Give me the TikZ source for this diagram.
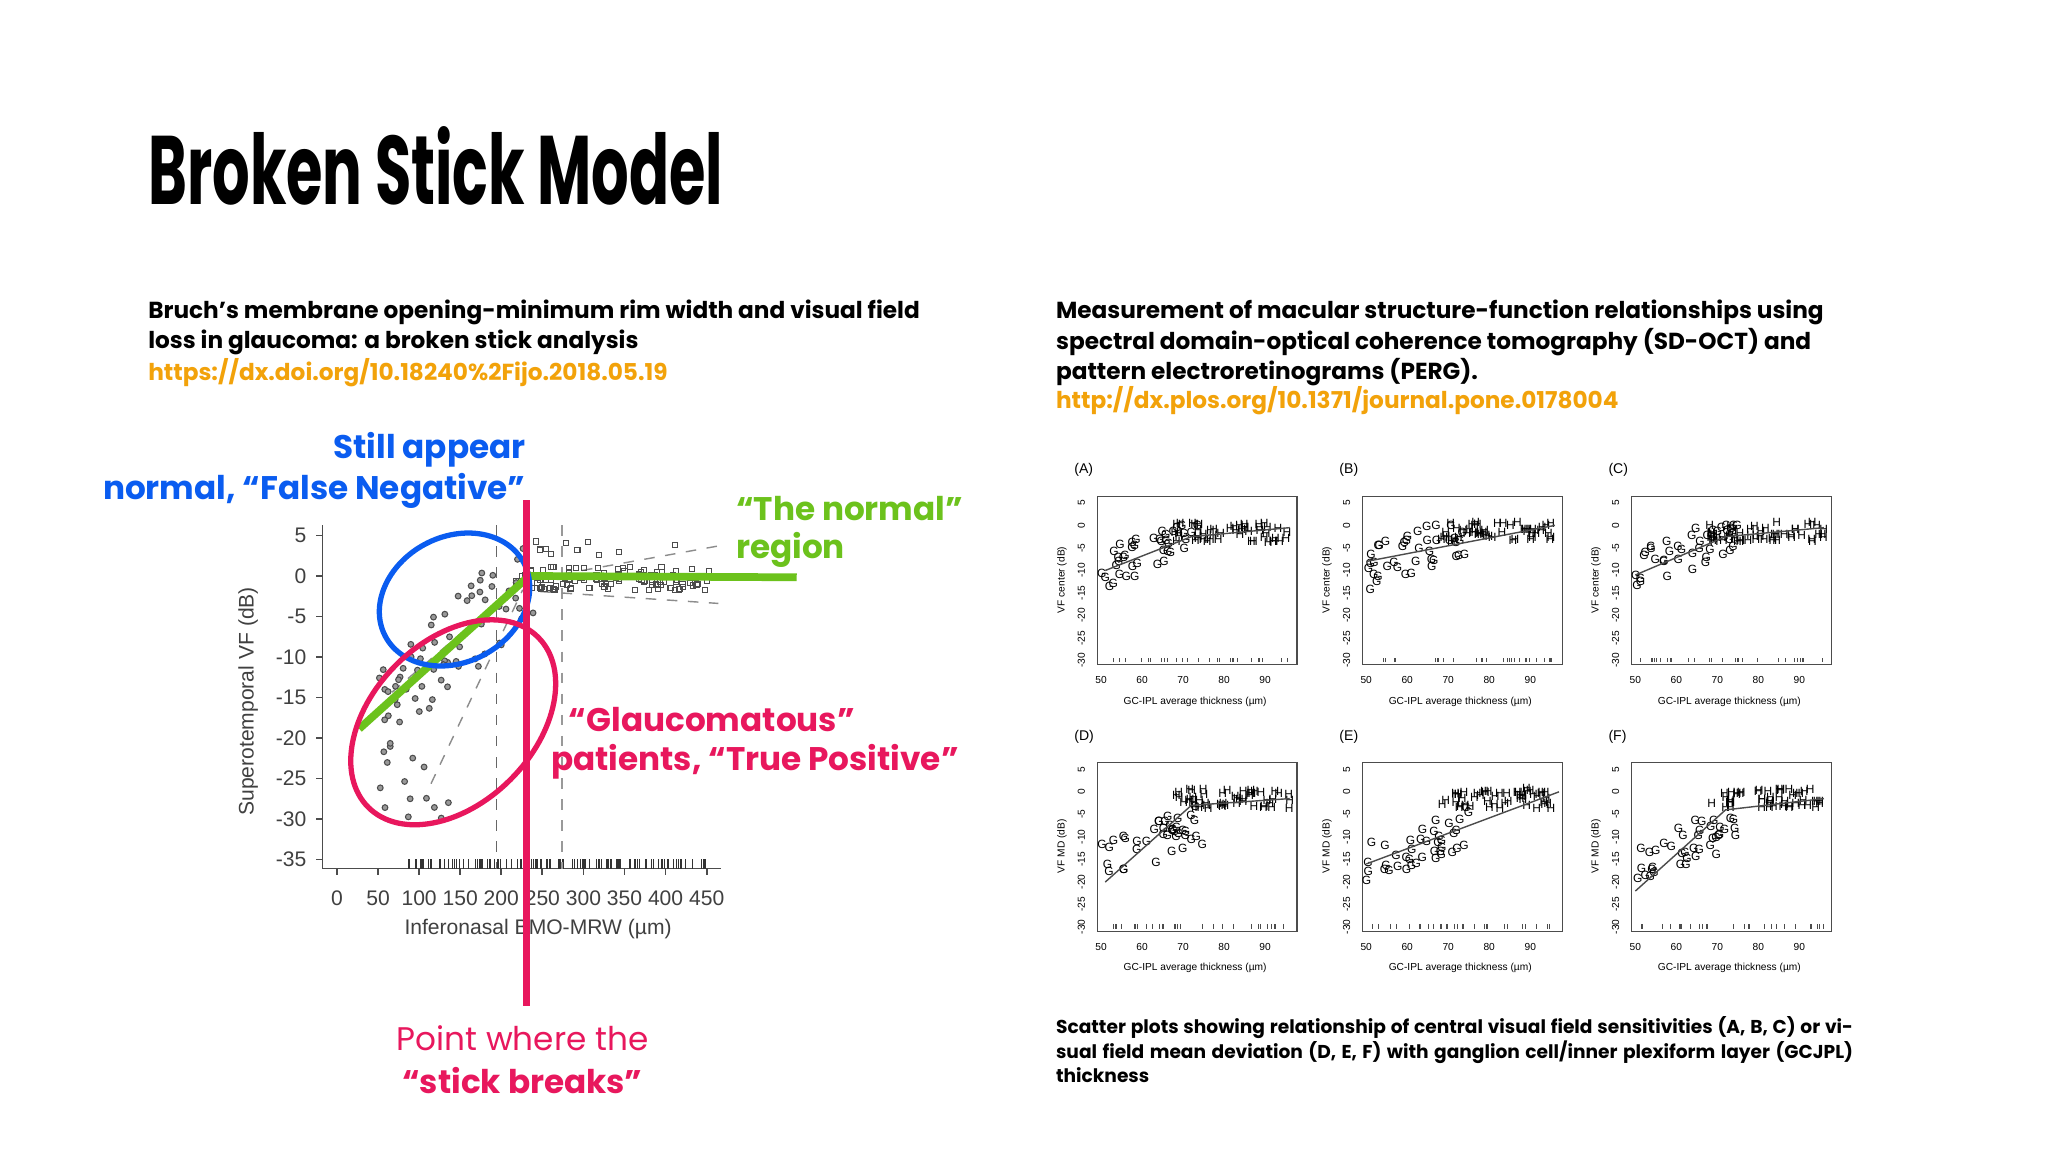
\documentclass[tikz,border=0pt]{standalone}
\usepackage{fontspec}
\setmainfont{Poppins}
\newfontfamily\arial{Liberation Sans}
\definecolor{lnk}{HTML}{F2A20A}
\definecolor{bl}{HTML}{0A5CF0}
\definecolor{gr}{HTML}{6CC21C}
\definecolor{pk}{HTML}{E8175D}
\tikzset{
 hd/.style={anchor=west,inner sep=0,font=\fontsize{6.6}{7}\bfseries},
 lab/.style={inner sep=0,font=\arial\fontsize{6}{7}\selectfont,text=black!75},
 tiny/.style={inner sep=0,font=\arial\fontsize{2.9}{3}\selectfont},
 pt/.style={inner sep=0,font=\arial\fontsize{3.4}{3}\selectfont},
 big/.style={inner sep=0,font=\fontsize{9.3}{10}\bfseries},
}
\newcommand\rplot[7]{%
\begin{scope}[shift={(#1,#2)}]
 \node[anchor=west,font=\arial\fontsize{4}{4}\selectfont,inner sep=0] (lab#3) at (-18,-20) {(#3)};
 \draw[black!70,line width=0.3pt] (0,0) rectangle (153,129);
 \node[tiny,rotate=90] (yl#3) at (-27,64) {#4};
 \node[tiny] (xl#3) at (75,157) {GC-IPL average thickness (µm)};
 \foreach \v in {50,60,...,90} \node[tiny] at ({3+(\v-50)*3.14},141) {\v};
 \foreach \w in {5,0,-5,-10,-15,-20,-25,-30} \node[tiny,rotate=90] at (-12,{5+(5-\w)*3.45}) {\w};
 \begin{scope}[shift={(-2.01cm,-0.2906cm)},x=0.041cm,y=0.0451cm]
  \pgfmathsetseed{#5}
  \foreach \i in {1,...,40}{\pgfmathsetmacro\gx{50+25*rnd}\pgfmathsetmacro\gw{min(0,#6+(\gx-50)*0.35+5*rand)}\node[pt] at (\gx,\gw) {G};}
  \foreach \i in {1,...,50}{\pgfmathsetmacro\gx{68+28*rnd}\pgfmathsetmacro\gw{-1.5+2.2*rand}\node[pt] at (\gx,\gw) {H};}
  \foreach \i in {1,...,28}{\pgfmathsetmacro\gx{51+45*rnd}\draw[black!70,line width=0.3pt] (\gx,-30.3) -- (\gx,-29.4);}
  \draw[black!70,line width=0.4pt] #7;
 \end{scope}
\end{scope}}
\begin{document}
\begin{tikzpicture}[x=0.01306cm,y=-0.01306cm]
\useasboundingbox (0,0) rectangle (1568,882);
\fill[white] (0,0) rectangle (1568,882);
\node[anchor=west,inner sep=0] (title) at (113,127) {\resizebox{5.75cm}{0.78cm}{\bfseries Broken Stick Model}};
\node[hd] (h1) at (113,239) {Bruch's membrane opening-minimum rim width and visual field};
\node[hd] (h2) at (113,262) {loss in glaucoma: a broken stick analysis};
\node[hd,text=lnk] (h3) at (113,285) {https://dx.doi.org/10.18240\%2Fijo.2018.05.19};
\node[hd] (r1) at (808,239) {Measurement of macular structure-function relationships using};
\node[hd] (r2) at (808,262) {spectral domain-optical coherence tomography (SD-OCT) and};
\node[hd] (r3) at (808,285) {pattern electroretinograms (PERG).};
\node[hd,text=lnk] (r4) at (808,307) {http://dx.plos.org/10.1371/journal.pone.0178004};
% left plot
\draw[black!70,line width=0.5pt] (247,402) -- (247,665) -- (552,665);
\foreach \w in {5,0,-5,-10,-15,-20,-25,-30,-35}{\draw[black!70,line width=0.5pt] (242,{441-6.2*\w}) -- (247,{441-6.2*\w}); \node[lab,anchor=east] at (235,{441-6.2*\w}) {\w};}
\foreach \v in {0,50,...,450}{\draw[black!70,line width=0.5pt] ({258+0.629*\v},665) -- ({258+0.629*\v},670); \node[lab] at ({258+0.629*\v},688) {\v};}
\node[lab,rotate=90] (yl) at (190,537) {Superotemporal VF (dB)};
\node[lab] (xl) at (412,711) {Inferonasal BMO-MRW (µm)};
\pgfmathsetseed{5}
\foreach \i in {1,...,120}{\pgfmathsetmacro\tx{310+230*rnd}\draw[black!80,line width=0.3pt] (\tx,658) -- (\tx,665);}
\draw[black!60,dashed,line width=0.4pt] (380,402) -- (380,665);
\draw[black!40,dashed,line width=0.6pt] (430,402) -- (430,665);
\draw[black!45,dashed,line width=0.4pt] (300,530) -- (400,445) -- (550,418);
\draw[black!45,dashed,line width=0.4pt] (330,600) -- (400,452) -- (550,462);
\pgfmathsetseed{7}
\foreach \i in {1,...,70}{\pgfmathsetmacro\cx{290+120*rnd}\pgfmathsetmacro\cy{max(420,441+(405-\cx)*0.9+35*rand)}\draw[black!70,fill=black!40,line width=0.3pt] (\cx,\cy) circle (2.2);}
\foreach \i in {1,...,12}{\pgfmathsetmacro\cx{290+60*rnd}\pgfmathsetmacro\cy{600+30*rand}\draw[black!70,fill=black!40,line width=0.3pt] (\cx,\cy) circle (2.2);}
\foreach \i in {1,...,110}{\pgfmathsetmacro\cx{395+150*rnd}\pgfmathsetmacro\cy{443+9*rand}\draw[black!70,line width=0.3pt] (\cx-2,\cy-2) rectangle (\cx+2,\cy+2);}
\foreach \i in {1,...,10}{\pgfmathsetmacro\cx{400+120*rnd}\pgfmathsetmacro\cy{425-12*rnd}\draw[black!70,line width=0.3pt] (\cx-2,\cy-2) rectangle (\cx+2,\cy+2);}
% annotations
\coordinate (g1) at (275,558);
\coordinate (g2) at (405,441);
\coordinate (g3) at (610,442);
\draw[gr,line width=2.2pt] (g1) -- (g2) -- (g3);
\draw[bl,line width=1.5pt,rotate around={28:(348,459)}] (348,459) ellipse [x radius=60,y radius=-48];
\draw[pk,line width=1.5pt,rotate around={45:(347,553)}] (347,553) ellipse [x radius=92,y radius=-62];
\draw[pk,line width=2pt] (403,383) -- (403,770);
\node[big,text=bl,anchor=east] (b1) at (403,344) {Still appear};
\node[big,text=bl,anchor=east] (b2) at (403,376) {normal, “False Negative”};
\node[big,text=gr,anchor=west] (gn1) at (563,389) {“The normal”};
\node[big,text=gr,anchor=west] (gn2) at (563,421) {region};
\node[big,text=pk] (p1) at (545,551) {“Glaucomatous”};
\node[big,text=pk] (p2) at (578,583) {patients, “True Positive”};
\node[inner sep=0,text=pk,font=\fontsize{9.3}{10}\selectfont] (q1) at (400,795) {Point where the};
\node[big,text=pk] (q2) at (400,827) {“stick breaks”};
% right plots
\rplot{840}{380}{A}{VF center (dB)}{11}{-10}{(51,-10) -- (72,-2.5) -- (96,-0.5)}
\rplot{1043}{380}{B}{VF center (dB)}{12}{-10}{(50,-8) -- (96,0)}
\rplot{1249}{380}{C}{VF center (dB)}{13}{-10}{(50,-11) -- (72,-2.5) -- (96,-0.5)}
\rplot{840}{584}{D}{VF MD (dB)}{14}{-16}{(51,-20) -- (72,-3) -- (96,-1.5)}
\rplot{1043}{584}{E}{VF MD (dB)}{15}{-16}{(50,-16) -- (97,0)}
\rplot{1249}{584}{F}{VF MD (dB)}{16}{-16}{(50,-22) -- (72,-4) -- (96,-1.5)}
\node[anchor=north west,inner sep=0,text width=7.97cm,align=justify,font=\fontsize{5.3}{6.9}\bfseries] (cap) at (808,778) {Scatter plots showing relationship of central visual field sensitivities (A, B, C) or visual field mean deviation (D, E, F) with ganglion cell/inner plexiform layer (GCJPL) thickness};
\end{tikzpicture}
\end{document}
